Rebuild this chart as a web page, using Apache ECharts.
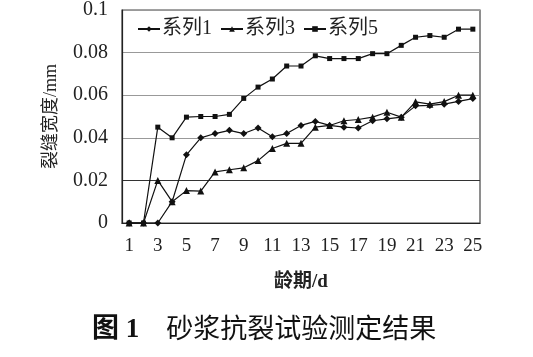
<!DOCTYPE html>
<html><head><meta charset="utf-8">
<script src="https://cdn.jsdelivr.net/npm/echarts@6/dist/echarts.min.js"></script>
<style>html,body{margin:0;padding:0;background:#fff}#c{width:533px;height:357px}</style>
</head><body><div id="c"></div>
<script>
var categories = ['1','2','3','4','5','6','7','8','9','10','11','12','13','14','15','16','17','18','19','20','21','22','23','24','25'];
var series1 = [0,0,0,0.010,0.032,0.040,0.042,0.0435,0.042,0.0446,0.0405,0.042,0.0458,0.0477,0.0458,0.045,0.0446,0.048,0.0489,0.0497,0.055,0.0552,0.0558,0.0571,0.0584];
var series3 = [0,0,0.020,0.010,0.0152,0.015,0.024,0.025,0.0259,0.0293,0.035,0.0374,0.0374,0.045,0.0458,0.048,0.0486,0.0497,0.052,0.0497,0.0569,0.0558,0.057,0.060,0.060];
var series5 = [0,0,0.045,0.040,0.0497,0.050,0.050,0.051,0.0585,0.0638,0.0676,0.0737,0.0737,0.0785,0.0772,0.0772,0.0772,0.0795,0.0795,0.0834,0.0872,0.088,0.0872,0.091,0.091];
var names = ['系列1','系列3','系列5'];
var yTitle = '裂缝宽度/mm';
var xTitle = '龄期/d';
var captionNum = '图 1';
var captionText = '砂浆抗裂试验测定结果';

var serif = '"Liberation Serif","Noto Sans CJK SC",serif';
var chart = echarts.init(document.getElementById('c'), null, {renderer:'canvas'});
function mk(name, data, symbol, size){
  return {name:name, type:'line', data:data, symbol:symbol, symbolSize:size, showSymbol:true,
    lineStyle:{color:'#111', width:1.2}, itemStyle:{color:'#111', borderWidth:0}, animation:false};
}
chart.setOption({
  animation:false,
  backgroundColor:'#fff',
  grid:{left:122, right:53, top:6, bottom:134, show:true, borderColor:'#444', borderWidth:1.2, backgroundColor:'#fff'},
  legend:{left:132, top:14, itemWidth:22, itemHeight:7, itemGap:8,
    textStyle:{fontFamily:serif, fontSize:20, color:'#222', padding:[0,0,0,-3]},
    data:names},
  xAxis:{type:'category', data:categories, boundaryGap:true,
    name:xTitle, nameLocation:'middle', nameGap:50,
    nameTextStyle:{fontFamily:serif, fontSize:19, color:'#222', fontWeight:'bold'},
    axisLine:{lineStyle:{color:'#222', width:1.2}},
    axisTick:{inside:true, length:6, lineStyle:{color:'#333'}},
    axisLabel:{interval:1, fontFamily:serif, fontSize:19, color:'#222', margin:14}},
  yAxis:{type:'value', min:0, max:0.1, interval:0.02,
    name:yTitle, nameLocation:'middle', nameGap:62, nameRotate:90,
    nameTextStyle:{fontFamily:serif, fontSize:18, color:'#222'},
    axisLine:{show:true, lineStyle:{color:'#222', width:1.2}},
    axisTick:{show:false},
    axisLabel:{fontFamily:serif, fontSize:20, color:'#222', margin:14,
      formatter:function(v){return String(+v.toFixed(2));}},
    splitLine:{show:true, lineStyle:{color:['#222','#333','#999','#999','#999','#999'], width:1}}},
  series:[mk(names[0], series1, 'diamond', 7), mk(names[1], series3, 'triangle', 7), mk(names[2], series5, 'rect', 5)],
  graphic:[{type:'text', left:92, top:317, style:{
    text:'{b|'+captionNum+'}{n|　'+captionText+'}',
    rich:{b:{fontFamily:serif, fontSize:27, fontWeight:'bold', fill:'#111'},
          n:{fontFamily:serif, fontSize:27, fill:'#111'}}}}]
});
</script></body></html>
